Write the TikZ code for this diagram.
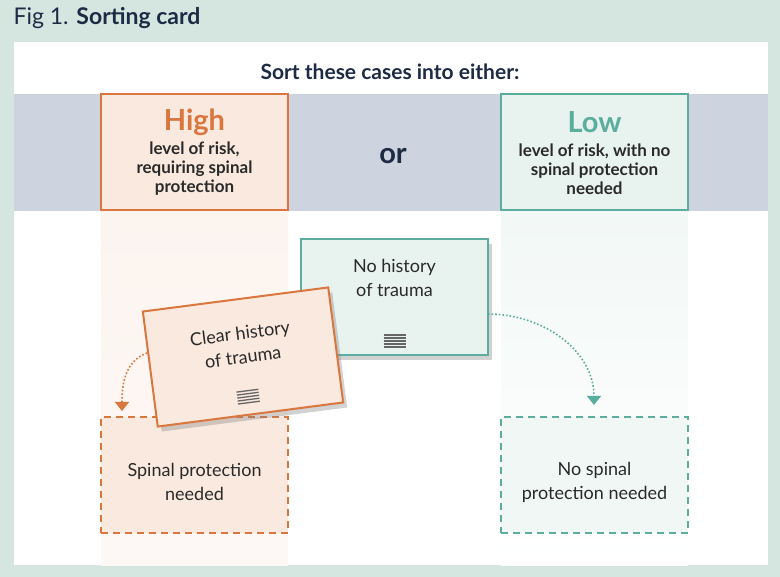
\documentclass[tikz,border=0pt]{standalone}
\usepackage{fontspec}
\setmainfont{Lato}
\usetikzlibrary{arrows.meta,shadows,calc}
\definecolor{bgc}{HTML}{D5E6E1}
\definecolor{band}{HTML}{CDD3DF}
\definecolor{org}{HTML}{D9773F}
\definecolor{orgl}{HTML}{F9E9DE}
\definecolor{orgxl}{HTML}{FCF4EF}
\definecolor{tea}{HTML}{5BAE9E}
\definecolor{teal2}{HTML}{E8F2EF}
\definecolor{teaxl}{HTML}{F2F8F6}
\definecolor{navy}{HTML}{1E2B45}
\definecolor{txt}{HTML}{2A2A2A}
\tikzset{
 hbox/.style={draw=#1,line width=2pt,minimum width=187pt,minimum height=116pt,inner sep=0pt},
 card/.style={hbox=#1,drop shadow={shadow xshift=4pt,shadow yshift=-5pt,opacity=.35}},
 lbl/.style={font=\fontsize{18}{24}\selectfont,text=txt,align=center},
 head/.style={font=\fontsize{17}{19}\selectfont\bfseries,text=txt,align=center},
 dotarr/.style={line width=1.6pt,dotted,-{Triangle[width=14pt,length=9pt]}},
}
\newcommand{\icn}[1]{\foreach \k in {0,1,2,3,4}{\draw[line width=1.3pt,gray!80!black] ($(#1)+(-11pt,\k*3pt-6pt)$) -- ++(22pt,0);}}
\begin{document}
\begin{tikzpicture}[x=1pt,y=-1pt]
\fill[bgc] (0,0) rectangle (780,577);
\useasboundingbox (0,0) rectangle (780,577);
\node[anchor=west,font=\fontsize{23}{26}\selectfont,text=navy] (title) at (10,18) {Fig 1. \textbf{Sorting card}};
\fill[white] (14,42) rectangle (768,565);
\node[font=\fontsize{21}{24}\selectfont\bfseries,text=navy] (sort) at (390,72) {Sort these cases into either:};
\fill[band] (14,94) rectangle (768,211);
\shade[top color=orgxl,bottom color=orgxl!60!white] (101,211) rectangle (288,565);
\shade[top color=teaxl,bottom color=white] (501,211) rectangle (688,565);
\node[hbox=org,fill=orgl] (high) at (194.5,152.5) {};
\node[font=\fontsize{29}{30}\selectfont\bfseries,text=org] (hight) at (194.5,122) {High};
\node[head] (highd) at (194.5,169) {level of risk,\\requiring spinal\\protection};
\node[hbox=tea,fill=teal2] (low) at (594.5,152.5) {};
\node[font=\fontsize{29}{30}\selectfont\bfseries,text=tea] (lowt) at (594.5,122) {Low};
\node[head] (lowd) at (594.5,169) {level of risk, with no\\spinal protection\\needed};
\node[font=\fontsize{29}{30}\selectfont\bfseries,text=navy] (or) at (393,156) {or};
% bottom targets
\node[hbox=org,dashed,fill=orgl,dash pattern=on 7pt off 5pt] (tgtH) at (194.5,475) {};
\node[lbl] at (194.5,482) {Spinal protection\\needed};
\node[hbox=tea,dashed,fill=teal2!60!white,dash pattern=on 7pt off 5pt] (tgtL) at (594.5,475) {};
\node[lbl] at (594.5,482) {No spinal\\protection needed};
% cards
\node[card=tea,fill=teal2] (c2) at (394.5,297) {};
\node[lbl] at (394.5,278) {No history\\of trauma};
\icn{394.5,341}
\coordinate (c2e) at (488,314);
\coordinate (tl) at (594,405);
\draw[dotarr,tea] (c2e) to[out=0,in=90] (tl);
\coordinate (c1e) at (147,353);
\coordinate (th) at (122,411);
\draw[dotarr,org] (c1e) to[out=200,in=90] (th);
\begin{scope}[shift={(243,357)},rotate=7.4,transform shape]
\node[card=org,fill=orgl] (c1) at (0,0) {};
\node[lbl] at (0,-12) {Clear history\\of trauma};
\icn{0,40}
\end{scope}
\end{tikzpicture}
\end{document}
